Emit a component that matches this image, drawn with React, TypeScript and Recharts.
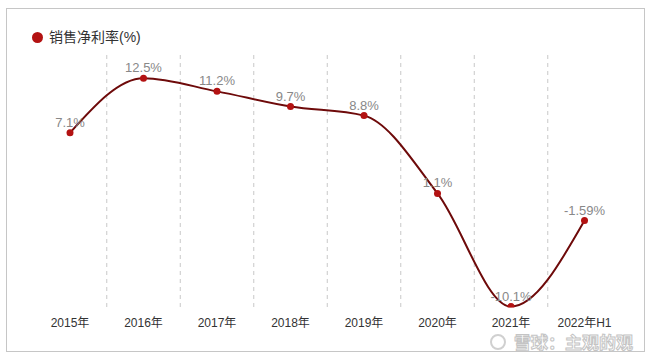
import React from "react";
import { LineChart, Line, XAxis, YAxis, CartesianGrid, LabelList } from "recharts";

const categories = ["2015年", "2016年", "2017年", "2018年", "2019年", "2020年", "2021年", "2022年H1"];
const netMargin = [7.1, 12.5, 11.2, 9.7, 8.8, 1.1, -10.1, -1.59];
const seriesName = "销售净利率(%)";
const categoryIndex = categories.map((_, i) => i);
const gridTicks = categories.slice(1).map((_, i) => i + 0.5);
const xDomain: [number, number] = [-0.5, categories.length - 0.5];

const data = categories.map((c, i) => ({ i, name: c, v: netMargin[i] }));

const FONT = "Arial, 'Liberation Sans', 'Noto Sans CJK SC', sans-serif";

const gridGenerator = (props: any) => {
  const scale = props?.xAxis?.scale;
  return gridTicks.map((t) => {
    if (typeof scale === "function") return scale(t);
    if (scale && typeof scale.map === "function") return scale.map(t);
    const off = props.offset;
    return off.left + ((t - xDomain[0]) / (xDomain[1] - xDomain[0])) * off.width;
  });
};

export default function App() {
  return (
    <div style={{ position: "absolute", left: 0, top: 0, width: 656, height: 364, background: "#fff", fontFamily: FONT }}>
      <div style={{ position: "absolute", left: 6, top: 8, width: 639, height: 344, border: "1px solid #c6c6c6", boxSizing: "border-box" }} />
      <div style={{ position: "absolute", left: 0, top: 0 }}>
        <LineChart width={656} height={364} data={data} margin={{ top: 55, right: 34.75, left: 33.25, bottom: 26.4 }}>
          <CartesianGrid
            horizontal={false}
            vertical={true}
            verticalCoordinatesGenerator={gridGenerator}
            strokeDasharray="4 4"
            stroke="#c8c8c8"
          />
          <XAxis
            dataKey="i"
            type="number"
            domain={xDomain}
            allowDataOverflow
            ticks={categoryIndex}
            interval={0}
            tickFormatter={(v: number) => categories[v]}
            axisLine={false}
            tickLine={false}
            tickSize={0}
            tickMargin={11}
            height={30}
            tick={{ fill: "#333", fontSize: 12, fontFamily: FONT }}
          />
          <YAxis type="number" domain={[-10.2, 14.8]} allowDataOverflow hide width={0} />
          <Line
            type="monotone"
            dataKey="v"
            name={seriesName}
            stroke="#6e0a0a"
            strokeWidth={2}
            dot={{ r: 3.5, fill: "#b31212", stroke: "none" }}
            activeDot={false}
            isAnimationActive={false}
          >
            <LabelList
              dataKey="v"
              position="top"
              offset={6}
              formatter={(v: number) => `${v}%`}
              style={{ fill: "#888", fontSize: 13, fontFamily: FONT }}
            />
          </Line>
        </LineChart>
      </div>
      <div
        style={{
          position: "absolute",
          left: 32,
          top: 27,
          display: "flex",
          alignItems: "center",
          fontFamily: FONT,
          fontSize: 14,
          color: "#333",
          lineHeight: "20px",
          whiteSpace: "nowrap",
        }}
      >
        <span style={{ display: "inline-block", width: 11, height: 11, borderRadius: "50%", background: "#b31212", marginRight: 6 }} />
        <span>{seriesName}</span>
      </div>
      <div
        style={{
          position: "absolute",
          left: 490,
          top: 334,
          fontSize: 17,
          fontWeight: "bold",
          color: "#fff",
          WebkitTextStroke: "1px #c4c4c4",
          fontFamily: "'Noto Sans CJK SC', sans-serif",
          lineHeight: "16px",
          height: 16,
          display: "flex",
          alignItems: "center",
          whiteSpace: "nowrap",
        }}
      >
        <span style={{ display: "inline-block", width: 16, height: 16, borderRadius: "50%", border: "2px solid #d0d0d0", boxSizing: "border-box", marginRight: 8 }} />
        <span>雪球：主观的观</span>
      </div>
    </div>
  );
}
